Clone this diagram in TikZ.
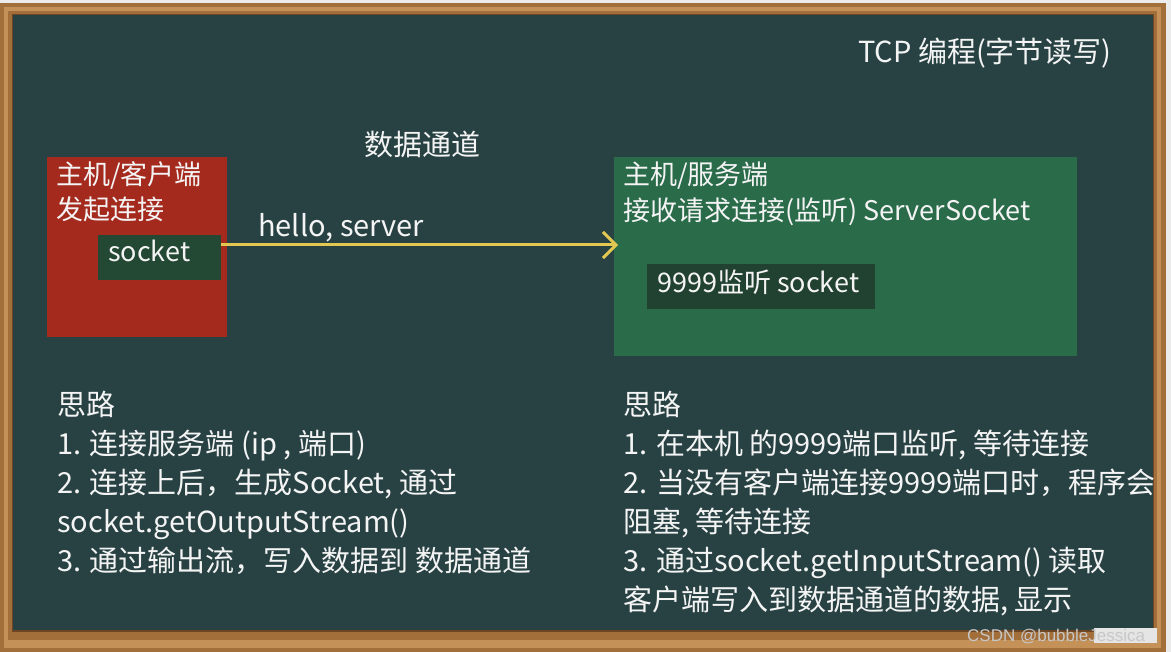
\documentclass[tikz,border=0pt]{standalone}
\usepackage{fontspec}
\setmainfont{Noto Sans CJK SC}
\newfontfamily\wmfont{Liberation Sans}
\usetikzlibrary{arrows.meta}
\definecolor{board}{RGB}{40,66,68}
\definecolor{wood}{RGB}{162,110,58}
\definecolor{woodlight}{RGB}{196,146,88}
\definecolor{wooddark}{RGB}{110,70,35}
\definecolor{redbox}{RGB}{164,42,30}
\definecolor{greenbox}{RGB}{42,107,74}
\definecolor{sockbox}{RGB}{35,72,52}
\definecolor{listenbox}{RGB}{34,66,49}
\definecolor{arrowy}{RGB}{226,200,80}
\definecolor{chalk}{RGB}{244,244,244}
\tikzset{
  txt/.style={anchor=base west, inner sep=0pt, text=chalk, font=\fontsize{29}{34}\selectfont},
  boxtxt/.style={txt, font=\fontsize{27}{32}\selectfont},
  box/.style={anchor=north west, inner sep=0pt, draw=none},
}
\begin{document}
\begin{tikzpicture}[x=1pt,y=-1pt]
\useasboundingbox (0,0) rectangle (1171,652);
% background and frame
\fill[black!8] (0,0) rectangle (1171,652);
\fill[wood] (0,3) rectangle (1166,652);
\fill[woodlight] (4,7) rectangle (1161,648);
\fill[wood] (8,11) rectangle (1157,640);
\fill[wooddark] (12,14) rectangle (1154,632);
\fill[board] (13,15) rectangle (1153,630);
% boxes
\node[box, fill=redbox, minimum width=180pt, minimum height=180pt] (client) at (47,157) {};
\node[box, fill=sockbox, minimum width=123pt, minimum height=45pt] (csock) at (98,235) {};
\node[box, fill=greenbox, minimum width=463pt, minimum height=199pt] (server) at (614,157) {};
\node[box, fill=listenbox, minimum width=228pt, minimum height=45pt] (ssock) at (647,264) {};
% arrow
\coordinate (tip) at (618,245);
\draw[arrowy, line width=3pt, -{Straight Barb[length=13pt,width=26pt,line width=3pt]}] (csock.east |- tip) -- (tip);
% texts
\node[txt] (title) at (858,63) {TCP 编程(字节读写)};
\node[txt] (chan) at (364,156) {数据通道};
\node[txt] (hello) at (258,237) {hello, server};
\node[boxtxt] (c1) at (56,185) {主机/客户端};
\node[boxtxt] (c2) at (56,220) {发起连接};
\node[boxtxt] (cs) at (108,262) {socket};
\node[boxtxt] (s1) at (623,185) {主机/服务端};
\node[boxtxt] (s2) at (623,221) {接收请求连接(监听) ServerSocket};
\node[boxtxt] (ss) at (657,293) {9999监听 socket};
% left list
\node[txt] (l0) at (57,416) {思路};
\node[txt] (l1) at (57,454.8) {1. 连接服务端 (ip , 端口)};
\node[txt] (l2) at (57,493.6) {2. 连接上后，生成Socket, 通过};
\node[txt] (l3) at (57,532.4) {socket.getOutputStream()};
\node[txt] (l4) at (57,571.2) {3. 通过输出流，写入数据到 数据通道};
% right list
\node[txt] (r0) at (623,416) {思路};
\node[txt] (r1) at (623,454.8) {1. 在本机 的9999端口监听, 等待连接};
\node[txt] (r2) at (623,493.6) {2. 当没有客户端连接9999端口时，程序会};
\node[txt] (r3) at (623,532.4) {阻塞, 等待连接};
\node[txt] (r4) at (623,571.2) {3. 通过socket.getInputStream() 读取};
\node[txt] (r5) at (623,610) {客户端写入到数据通道的数据, 显示};
% watermark
\fill[black!10] (1094,628) rectangle (1157,643);
\node[anchor=base west, inner sep=0pt, text=black!22, font=\wmfont\fontsize{17}{20}\selectfont] (wm) at (967,641) {CSDN @bubbleJessica};
\end{tikzpicture}
\end{document}
